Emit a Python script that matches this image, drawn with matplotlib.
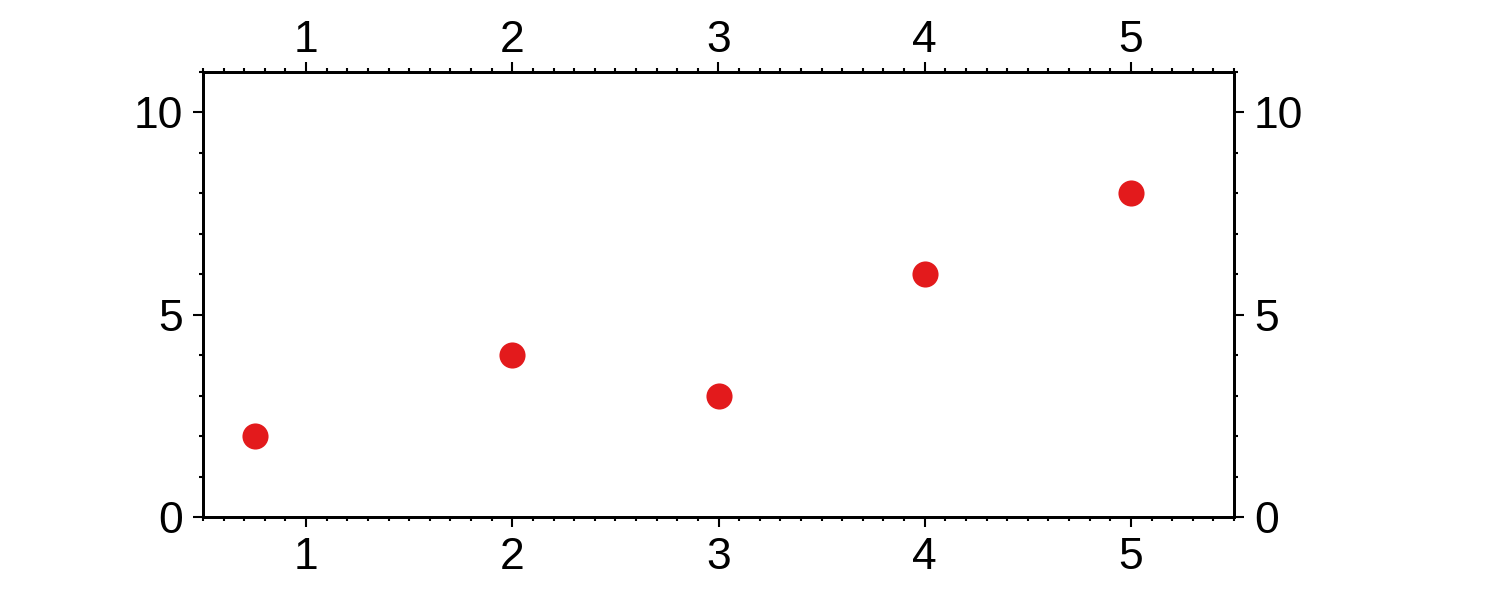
import matplotlib.pyplot as plt
from matplotlib.ticker import MultipleLocator

x = [0.75, 2, 3, 4, 5]
y = [2, 4, 3, 6, 8]

plt.rcParams['font.family'] = ['Liberation Sans', 'DejaVu Sans']

fig = plt.figure(figsize=(7.5, 3), dpi=200)
ax = fig.add_axes([0.1353, 0.1383, 0.6874, 0.7417])

ax.plot(x, y, 'o', color='#e31a1c', markersize=9.4, markeredgewidth=0, clip_on=False)

ax.set_xlim(0.5, 5.5)
ax.set_ylim(0, 11)
ax.xaxis.set_major_locator(MultipleLocator(1))
ax.xaxis.set_minor_locator(MultipleLocator(0.1))
ax.yaxis.set_major_locator(MultipleLocator(5))
ax.yaxis.set_minor_locator(MultipleLocator(1))

for s in ax.spines.values():
    s.set_linewidth(1.0)

ax.tick_params(which='both', direction='out', top=False, right=True,
               labelright=True, labelsize=16, width=0.75)
ax.tick_params(which='major', length=3.6, pad=3.5)
ax.tick_params(which='minor', length=1.4)

# top axis with labels set a bit closer to the frame
ax2 = ax.twiny()
ax2.set_xlim(ax.get_xlim())
ax2.xaxis.set_major_locator(MultipleLocator(1))
ax2.xaxis.set_minor_locator(MultipleLocator(0.1))
ax2.tick_params(which='both', direction='out', labelsize=16, width=0.75)
ax2.tick_params(which='major', length=3.6, pad=0.5)
ax2.tick_params(which='minor', length=1.4)
for s in ax2.spines.values():
    s.set_linewidth(1.0)

fig.savefig('out.png', dpi=200)
